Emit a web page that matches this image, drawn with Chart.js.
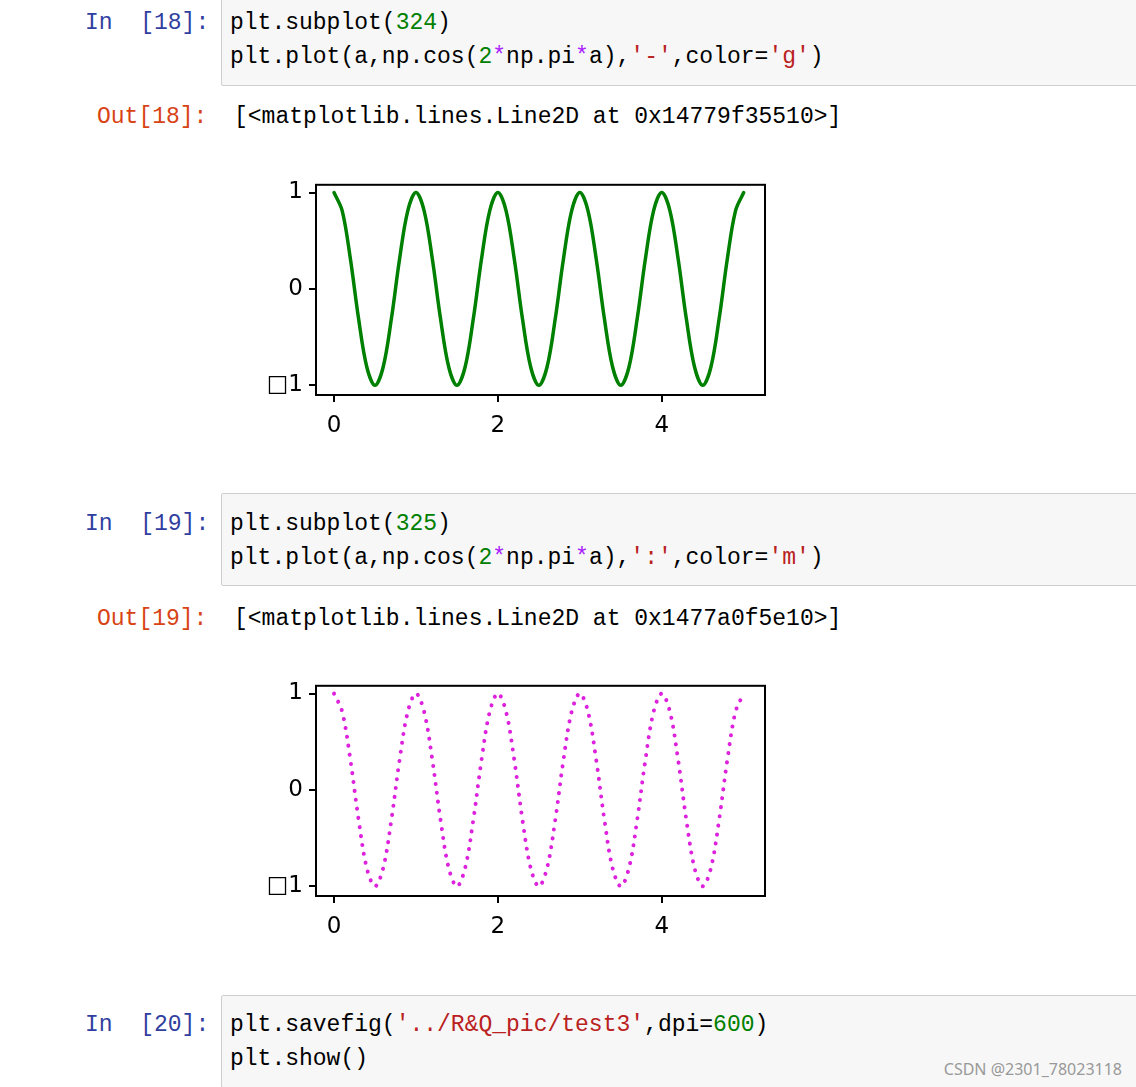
<!DOCTYPE html>
<html><head><meta charset="utf-8">
<script src="https://cdn.jsdelivr.net/npm/chart.js@4"></script>
<style>
body{margin:0;background:#fff;width:1136px;height:1087px;position:relative;overflow:hidden;font-family:"Liberation Mono",monospace}
.p{position:absolute;font-size:23px;white-space:pre}
.in{color:#303F9F}.out{color:#D84315}
.cell{position:absolute;left:221px;right:-2px;background:#f7f7f7;border:1px solid #cfcfcf;border-radius:2px}
.n{color:#008000}.s{color:#BA2121}.o{color:#AA22FF}
.cv{position:absolute;left:240px;width:540px;height:280px}
</style></head><body>
<div class="cell" style="top:-2px;height:86px"></div>
<div class="p in" style="left:85px;top:10px">In  [18]:</div>
<div class="p" style="left:230px;top:10px">plt.subplot(<span class="n">324</span>)</div>
<div class="p" style="left:230px;top:44px">plt.plot(a,np.cos(<span class="n">2</span><span class="o">*</span>np.pi<span class="o">*</span>a),<span class="s">'-'</span>,color=<span class="s">'g'</span>)</div>
<div class="p out" style="left:97px;top:104px">Out[18]:</div>
<div class="p" style="left:234px;top:104px">[&lt;matplotlib.lines.Line2D at 0x14779f35510&gt;]</div>
<div class="cv" style="top:165px"><canvas id="c1"></canvas></div>

<div class="cell" style="top:493px;height:91px"></div>
<div class="p in" style="left:85px;top:511px">In  [19]:</div>
<div class="p" style="left:230px;top:511px">plt.subplot(<span class="n">325</span>)</div>
<div class="p" style="left:230px;top:545px">plt.plot(a,np.cos(<span class="n">2</span><span class="o">*</span>np.pi<span class="o">*</span>a),<span class="s">':'</span>,color=<span class="s">'m'</span>)</div>
<div class="p out" style="left:97px;top:606px">Out[19]:</div>
<div class="p" style="left:234px;top:606px">[&lt;matplotlib.lines.Line2D at 0x1477a0f5e10&gt;]</div>
<div class="cv" style="top:666px"><canvas id="c2"></canvas></div>

<div class="cell" style="top:995px;height:91px"></div>
<div class="p in" style="left:85px;top:1012px">In  [20]:</div>
<div class="p" style="left:230px;top:1012px">plt.savefig(<span class="s">'../R&amp;Q_pic/test3'</span>,dpi=<span class="n">600</span>)</div>
<div class="p" style="left:230px;top:1046px">plt.show()</div>
<div style="position:absolute;right:14px;top:1058px;font:16px 'Noto Sans';color:#999">CSDN @2301_78023118</div>
<script>
const xs = [0,0.1,0.2,0.3,0.4,0.5,0.6,0.7,0.8,0.9,1,1.1,1.2,1.3,1.4,1.5,1.6,1.7,1.8,1.9,2,2.1,2.2,2.3,2.4,2.5,2.6,2.7,2.8,2.9,3,3.1,3.2,3.3,3.4,3.5,3.6,3.7,3.8,3.9,4,4.1,4.2,4.3,4.4,4.5,4.6,4.7,4.8,4.9,5];
const ys = [1,0.81,0.31,-0.31,-0.81,-1,-0.81,-0.31,0.31,0.81,1,0.81,0.31,-0.31,-0.81,-1,-0.81,-0.31,0.31,0.81,1,0.81,0.31,-0.31,-0.81,-1,-0.81,-0.31,0.31,0.81,1,0.81,0.31,-0.31,-0.81,-1,-0.81,-0.31,0.31,0.81,1,0.81,0.31,-0.31,-0.81,-1,-0.81,-0.31,0.31,0.81,1];
const xTicks = [0,2,4];
const yTicks = [-1,0,1];

const frame = {
  id:'frame',
  afterDraw(chart){
    const {ctx, chartArea:a} = chart;
    ctx.save(); ctx.strokeStyle='#000'; ctx.lineWidth=2;
    ctx.strokeRect(a.left,a.top,a.right-a.left,a.bottom-a.top);
    ctx.restore();
  }
};

function draw(id, color, dash){
  new Chart(document.getElementById(id), {
    type:'line',
    data:{datasets:[{data:xs.map((x,i)=>({x:x,y:ys[i]})), borderColor:color, borderWidth:dash?4:3.5,
      borderDash:dash||[], borderCapStyle:'round', pointRadius:0, tension:0.35}]},
    plugins:[frame],
    options:{
      responsive:true, maintainAspectRatio:false, animation:false,
      layout:{padding:{top:14,right:15}},
      plugins:{legend:{display:false},tooltip:{enabled:false}},
      scales:{
        x:{type:'linear',min:-0.22,max:5.26,
          afterBuildTicks:s=>{s.ticks=xTicks.map(v=>({value:v}));},
          afterFit:s=>{s.height=50;},
          grid:{drawOnChartArea:false,tickLength:7,color:'#000',lineWidth:2},
          border:{color:'#000',width:2},
          ticks:{color:'#000',font:{family:'DejaVu Sans',size:23},padding:10}},
        y:{min:-1.1,max:1.08,
          afterBuildTicks:s=>{s.ticks=yTicks.map(v=>({value:v}));},
          afterFit:s=>{s.width=76;},
          grid:{drawOnChartArea:false,tickLength:7,color:'#000',lineWidth:2},
          border:{color:'#000',width:2},
          ticks:{color:'#000',font:{family:'DejaVu Sans',size:23},padding:6,
            callback:v=>v<0?'\u25A1'+Math.abs(v):String(v)}}
      }
    }
  });
}
draw('c1','#008000',null);
draw('c2','#DD22DD',[0.1,9]);
</script>
</body></html>
